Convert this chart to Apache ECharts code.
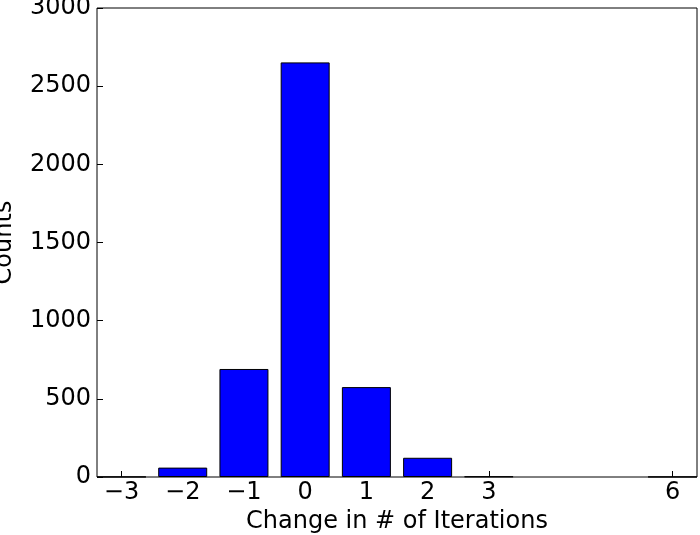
<!DOCTYPE html>
<html>
<head>
<meta charset="utf-8">
<script src="https://cdn.jsdelivr.net/npm/echarts@6/dist/echarts.min.js"></script>
<style>html,body{margin:0;padding:0;background:#fff}#c{width:700px;height:535px}</style>
</head>
<body>
<div id="c"></div>
<script>
const changes = [-3, -2, -1, 0, 1, 2, 3, 6];
const counts = [1, 60, 691, 2652, 575, 123, 3, 1];
const labelLift = [150, 60, 40, 60, 40, 60, 150, 150];
const xTicks = [-3, -2, -1, 0, 1, 2, 3, 6];

const chart = echarts.init(document.getElementById('c'));
const font = 'DejaVu Sans';
const fmt = v => (v < 0 ? '\u2212' + Math.abs(v) : String(v));
chart.setOption({
    animation: false,
    grid: { left: 97, right: 3, top: 8, bottom: 58, show: true, borderColor: '#000', borderWidth: 1,
        containLabel: false, outerBoundsMode: 'none' },
    xAxis: {
        type: 'value', min: -3.4, max: 6.4,
        name: 'Change in # of Iterations', nameLocation: 'middle', nameGap: 30,
        nameTextStyle: { fontFamily: font, fontSize: 24, color: '#000' },
        axisLine: { show: false, onZero: false },
        splitLine: { show: false },
        axisTick: { show: true, inside: true, length: 6, customValues: xTicks, lineStyle: { color: '#000' } },
        axisLabel: { customValues: xTicks, formatter: fmt, fontFamily: font, fontSize: 24, color: '#000', margin: 4 }
    },
    yAxis: {
        type: 'value', min: 0, max: 3000, interval: 500,
        name: 'Counts', nameLocation: 'middle', nameGap: 80,
        nameTextStyle: { fontFamily: font, fontSize: 24, color: '#000' },
        axisLine: { show: false, onZero: false },
        splitLine: { show: false },
        axisTick: { show: true, inside: true, length: 6, lineStyle: { color: '#000' } },
        axisLabel: { formatter: v => String(v), fontFamily: font, fontSize: 24, color: '#000', margin: 6 }
    },
    series: [{
        type: 'bar', barWidth: 49,
        data: changes.map((c, i) => [c, counts[i]]),
        itemStyle: { color: '#0000ff', borderColor: '#000', borderWidth: 1 },
        label: { show: false }
    }, {
        type: 'scatter', symbol: 'none', symbolSize: 1,
        data: changes.map((c, i) => [c, counts[i] + labelLift[i], counts[i]]),
        label: { show: true, position: 'top', distance: 0, formatter: p => p.value[2],
            fontFamily: font, fontSize: 24, color: '#000' }
    }]
});
</script>
</body>
</html>
